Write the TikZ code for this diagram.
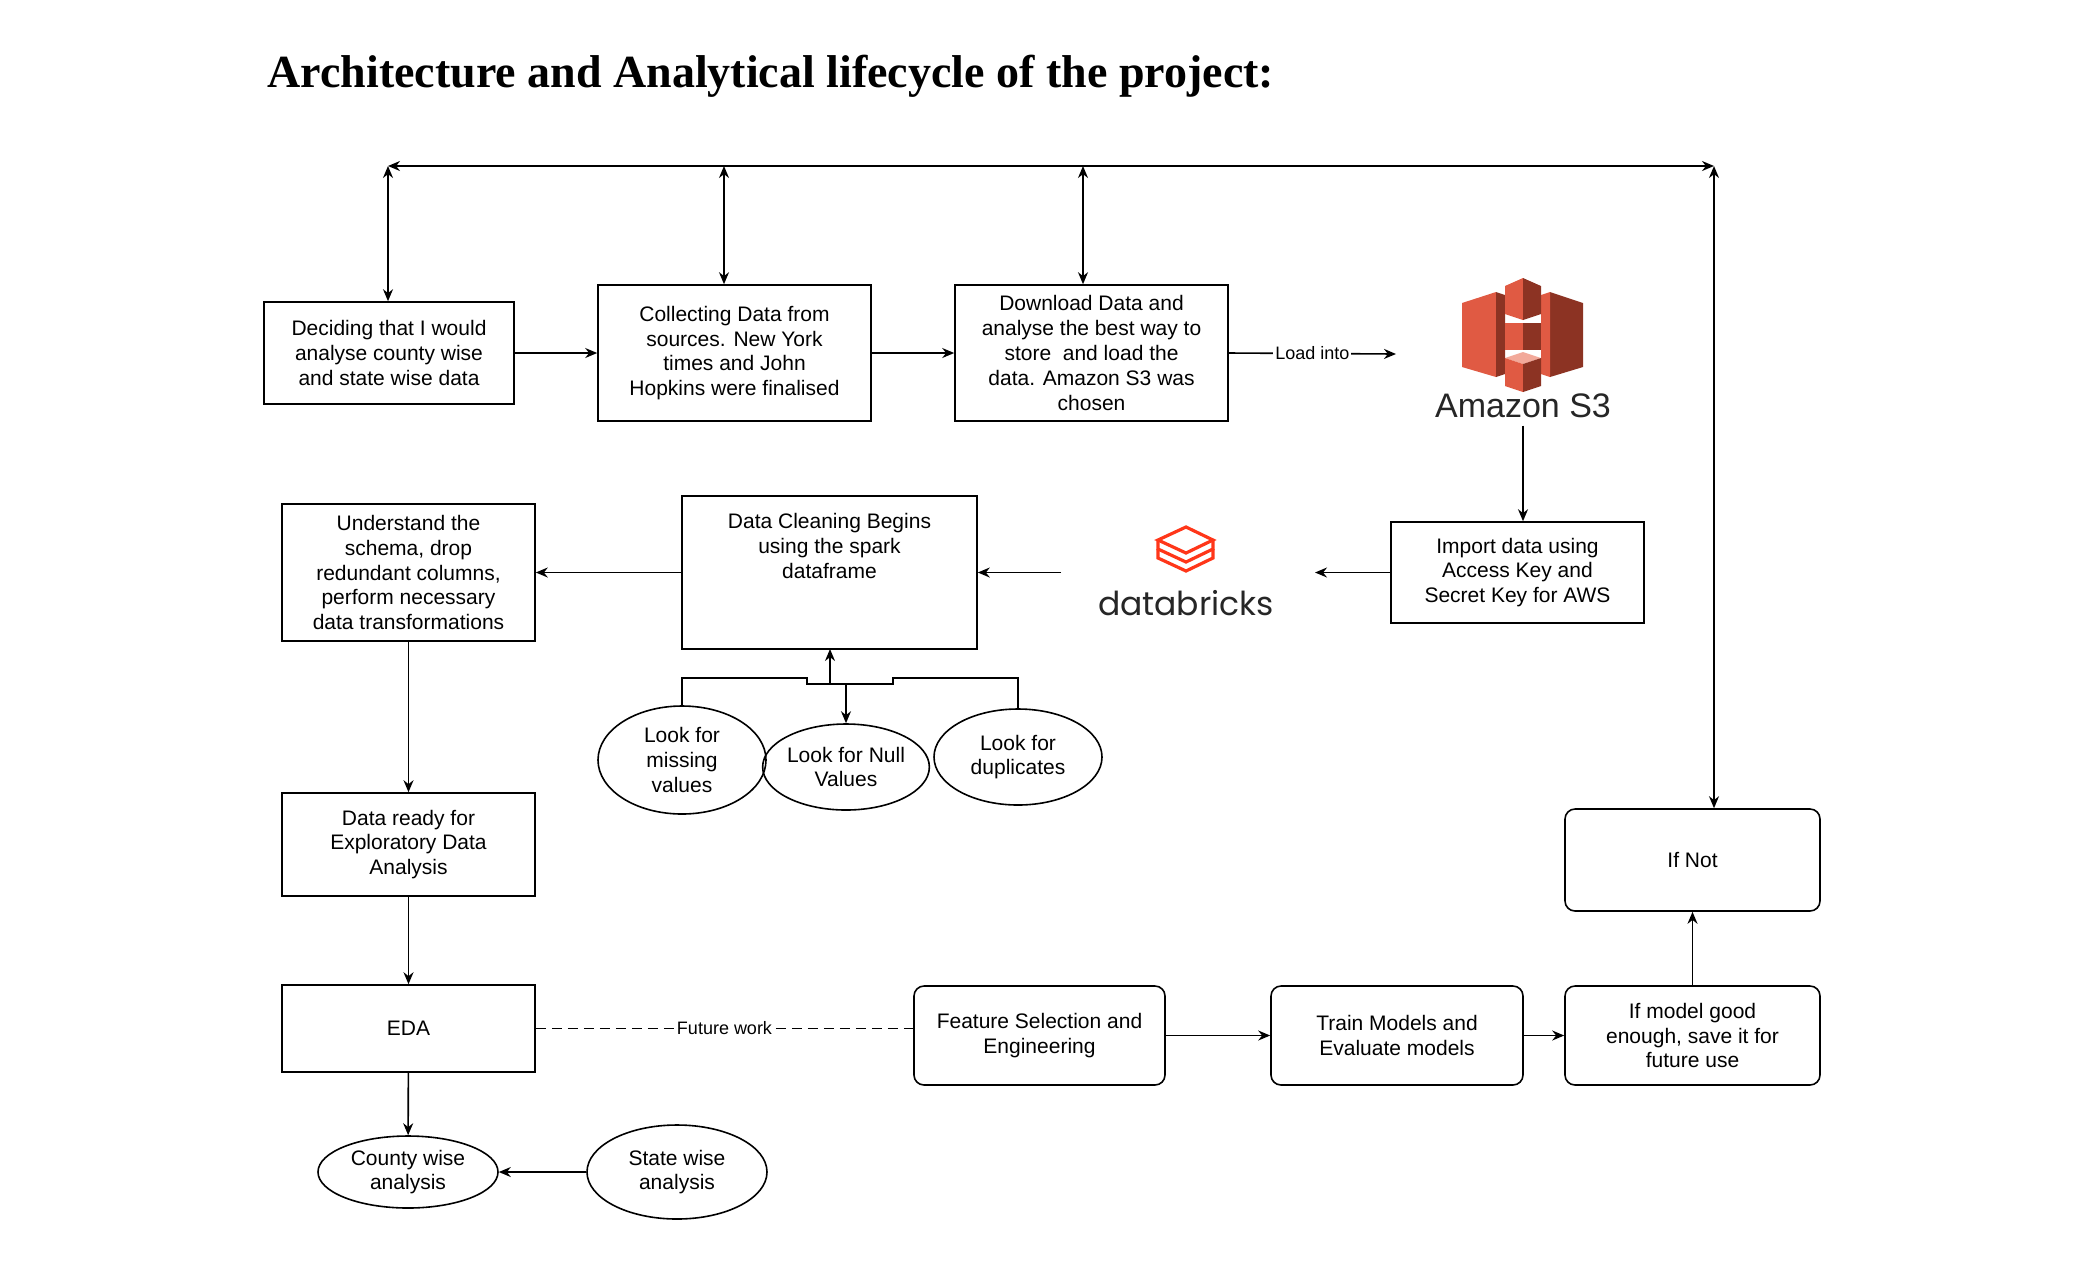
\documentclass[tikz,border=0pt]{standalone}
\usepackage{fontspec}
\setmainfont{Liberation Sans}
\newfontfamily\titlefont{Liberation Serif}
\newfontfamily\popfont{Poppins}
\usetikzlibrary{arrows.meta,shapes.geometric}
\definecolor{s3a}{HTML}{E05A43}
\definecolor{s3b}{HTML}{8C3323}
\definecolor{s3c}{HTML}{F2A99A}
\begin{document}
\begin{tikzpicture}[x=0.5pt,y=-0.5pt,line width=0.8pt,
  box/.style={draw,align=center,font=\fontsize{10.5}{12.4}\selectfont,inner sep=1pt},
  rbox/.style={box,rounded corners=5pt},
  ell/.style={draw,ellipse,align=center,font=\fontsize{10.5}{12.4}\selectfont,inner sep=0pt},
  arr/.style={-{Stealth[length=6pt,width=5pt]}},
  darr/.style={{Stealth[length=6pt,width=5pt]}-{Stealth[length=6pt,width=5pt]}}]
\useasboundingbox (0,0) rectangle (2088,1276);
\node[anchor=west,font=\titlefont\bfseries\fontsize{23}{26}\selectfont] (title) at (260,76) {Architecture and Analytical lifecycle of the project:};

\node[box,minimum width=125pt,minimum height=51pt] (b1) at (389,353) {Deciding that I would\\analyse county wise\\and state wise data};
\node[box,minimum width=136.5pt,minimum height=68pt] (b2) at (734.5,353) {Collecting Data from\\sources. New York\\times and John\\Hopkins were finalised};
\node[box,minimum width=136.5pt,minimum height=68pt] (b3) at (1091.5,353) {Download Data and\\analyse the best way to\\store\ \ and load the\\data. Amazon S3 was\\chosen};
\node[box,minimum width=126.5pt,minimum height=50.5pt] (b4) at (1517.5,572.5) {Import data using\\Access Key and\\Secret Key for AWS};
\node[box,minimum width=147.5pt,minimum height=76.5pt] (b5) at (829.5,572.5) {Data Cleaning Begins\\using the spark\\dataframe\\[14pt]};
\node[box,minimum width=126.5pt,minimum height=68.5pt] (b6) at (408.5,572.5) {Understand the\\schema, drop\\redundant columns,\\perform necessary\\data transformations};
\node[box,minimum width=126.5pt,minimum height=51.5pt] (b7) at (408.5,844.5) {Data ready for\\Exploratory Data\\Analysis};
\node[box,minimum width=126.5pt,minimum height=43.5pt] (b8) at (408.5,1028.5) {EDA};
\node[rbox,minimum width=125.5pt,minimum height=49.5pt] (b9) at (1039.5,1035.5) {Feature Selection and\\Engineering};
\node[rbox,minimum width=126pt,minimum height=49.5pt] (b10) at (1397,1035.5) {Train Models and\\Evaluate models};
\node[rbox,minimum width=127.5pt,minimum height=49.5pt] (b11) at (1692.5,1035.5) {If model good\\enough, save it for\\future use};
\node[rbox,minimum width=127.5pt,minimum height=51pt] (b12) at (1692.5,860) {If Not};

\node[ell,minimum width=84pt,minimum height=54pt] (e1) at (682,760) {Look for\\missing\\values};
\node[ell,minimum width=78pt,minimum height=43pt] (e2) at (846,767) {Look for Null\\Values};
\node[ell,minimum width=84pt,minimum height=48pt] (e3) at (1018,757) {Look for\\duplicates};
\node[ell,minimum width=90pt,minimum height=36pt] (e4) at (408,1172) {County wise\\analysis};
\node[ell,minimum width=90pt,minimum height=47pt] (e5) at (677,1172) {State wise\\analysis};

% S3 logo
\begin{scope}
\fill[s3a] (1462,303) -- (1496,292) -- (1496,377) -- (1462,367) -- cycle;
\fill[s3b] (1496,292) -- (1505,295) -- (1505,374) -- (1496,377) -- cycle;
\fill[s3b] (1583,303) -- (1550,292) -- (1550,377) -- (1583,367) -- cycle;
\fill[s3a] (1550,292) -- (1541,295) -- (1541,374) -- (1550,377) -- cycle;
\fill[s3a] (1505,286) -- (1523,278) -- (1523,320) -- (1505,314) -- cycle;
\fill[s3b] (1541,286) -- (1523,278) -- (1523,320) -- (1541,314) -- cycle;
\fill[s3b] (1505,323) -- (1541,323) -- (1541,350) -- (1505,350) -- cycle;
\fill[s3a] (1505,323) -- (1523,323) -- (1523,350) -- (1505,350) -- cycle;
\fill[s3c] (1505,358) -- (1523,352) -- (1541,358) -- (1523,364) -- cycle;
\fill[s3a] (1505,358) -- (1523,364) -- (1523,392) -- (1505,386) -- cycle;
\fill[s3b] (1541,358) -- (1523,364) -- (1523,392) -- (1541,386) -- cycle;
\end{scope}
\node[font=\fontsize{17}{20}\selectfont,text=black!85] (s3) at (1523,406) {Amazon S3};
\coordinate (s3in) at (1396,354);

% databricks logo
\begin{scope}[draw=red!75!orange!90,line width=1.6pt]
\draw (1158,540) -- (1186,527) -- (1213,540) -- (1186,553) -- cycle;
\draw (1158,540) -- (1158,549) -- (1186,562) -- (1213,549) -- (1213,540);
\draw (1158,549) -- (1158,558) -- (1186,571) -- (1213,558) -- (1213,549);
\end{scope}
\node[font=\popfont\fontsize{16.5}{19}\selectfont,text=black!85] (db) at (1186,603) {databricks};
\coordinate (dbin) at (1315,572.5);
\coordinate (dbout) at (1061,572.5);

% top bus
\coordinate (t1) at (388,166);
\coordinate (t2) at (724,166);
\coordinate (t3) at (1083,166);
\coordinate (t4) at (1714,166);
\draw[darr] (t1) -- (t4);
\draw[darr] (t1) -- (t1 |- b1.north);
\draw[darr] (t2) -- (t2 |- b2.north);
\draw[darr] (t3) -- (t3 |- b3.north);
\draw[darr] (t4) -- (t4 |- b12.north);

\draw[arr] (b1) -- (b2);
\draw[arr] (b2) -- (b3);
\draw[arr] (b3.east) -- node[fill=white,inner sep=1pt,font=\fontsize{9}{10}\selectfont]{Load into} (s3in);
\draw[arr] (s3.south) -- (b4.north -| s3.south);
\draw[arr] (b4.west) -- (dbin);
\draw[arr] (dbout) -- (b5.east);
\draw[arr] (b5) -- (b6);
\draw[arr] (b6) -- (b7);
\draw[arr] (b7) -- (b8);
\draw[arr] (b8) -- (e4);
\draw[arr] (e5) -- (e4);
\draw[dash pattern=on 5pt off 3pt] (b8.east) -- node[fill=white,inner sep=1pt,font=\fontsize{9}{10}\selectfont]{Future work} (b8.east -| b9.west);
\draw[arr] (b9) -- (b10);
\draw[arr] (b10) -- (b11);
\draw[arr] (b11) -- (b12);

% cleaning bus
\draw (e1.north) -- (682,678) -- (807,678) -- (807,684) -- (893,684) -- (893,678) -- (1018,678) -- (e3.north);
\draw[arr] (830,684) -- (830,649);
\draw[arr] (846,684) -- (e2.north);
\end{tikzpicture}
\end{document}
